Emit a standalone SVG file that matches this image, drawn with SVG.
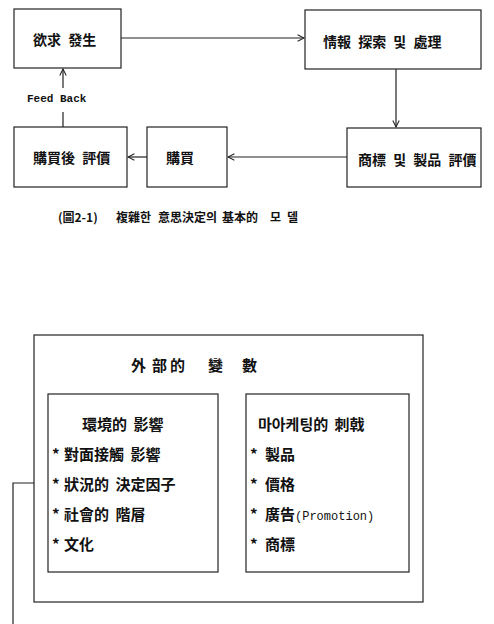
<svg xmlns="http://www.w3.org/2000/svg" width="494" height="624" viewBox="0 0 494 624">
<style>
.box{fill:#fff;stroke:#222;stroke-width:1.2}
.t{font-family:"Noto Sans CJK KR","Noto Sans CJK SC",sans-serif;fill:#111;font-weight:bold}
.top{font-size:14px;word-spacing:4px}
.low{font-size:15px;word-spacing:3px}
.cap{font-size:12px}
.mono{font-family:"Liberation Mono",monospace;fill:#111}
.line{fill:none;stroke:#222;stroke-width:1.2}
</style>
<defs>
<marker id="arr" viewBox="0 0 10 10" refX="9" refY="5" markerWidth="8" markerHeight="8" markerUnits="userSpaceOnUse" orient="auto">
<path d="M1,1 L9,5 L1,9" fill="none" stroke="#222" stroke-width="1.3"/>
</marker>
</defs>
<rect width="494" height="624" fill="#fff"/>

<g id="connectors">
<line class="line" x1="121" y1="38" x2="304" y2="38" marker-end="url(#arr)"/>
<line class="line" x1="396" y1="69" x2="396" y2="127" marker-end="url(#arr)"/>
<line class="line" x1="347" y1="157" x2="228" y2="157" marker-end="url(#arr)"/>
<line class="line" x1="147" y1="157" x2="128" y2="157" marker-end="url(#arr)"/>
<line class="line" x1="63" y1="127" x2="63" y2="112"/>
<line class="line" x1="63" y1="88" x2="63" y2="69" marker-end="url(#arr)"/>
<polyline class="line" points="34,483 13,483 13,624"/>
</g>

<g id="feedback-label">
<text class="mono" x="27" y="102" font-size="11" font-weight="bold">Feed Back</text>
</g>

<g id="n1">
<rect class="box" x="14" y="9" width="107" height="59"/>
<text class="t top" x="33" y="45">欲求 發生</text>
</g>
<g id="n2">
<rect class="box" x="305" y="10" width="176" height="59"/>
<text class="t top" x="323" y="47">情報 探索 및 處理</text>
</g>
<g id="n3">
<rect class="box" x="347" y="128" width="134" height="59"/>
<text class="t top" x="358" y="165">商標 및 製品 評價</text>
</g>
<g id="n4">
<rect class="box" x="147" y="127" width="80" height="60"/>
<text class="t top" x="166" y="163">購買</text>
</g>
<g id="n5">
<rect class="box" x="14" y="127" width="113" height="60"/>
<text class="t top" x="33" y="163">購買後 評價</text>
</g>

<g id="caption">
<text class="t cap" y="222"><tspan x="58">(圖2-1)</tspan><tspan x="116">複雜한</tspan><tspan x="158">意思決定의</tspan><tspan x="222">基本的</tspan><tspan x="270" letter-spacing="6">모델</tspan></text>
</g>

<g id="outer">
<rect class="box" x="34" y="335" width="389" height="267"/>
<text class="t" font-size="15" y="371" x="131 152 170 208 242">外部的變數</text>
</g>

<g id="env">
<rect class="box" x="48" y="394" width="170" height="178"/>
<text class="t low" x="82" y="430">環境的 影響</text>
<text class="t low" x="52" y="460">*</text><text class="t low" x="64" y="460">對面接觸 影響</text>
<text class="t low" x="52" y="490">*</text><text class="t low" x="64" y="490">狀況的 決定因子</text>
<text class="t low" x="52" y="520">*</text><text class="t low" x="64" y="520">社會的 階層</text>
<text class="t low" x="52" y="550">*</text><text class="t low" x="64" y="550">文化</text>
</g>

<g id="mkt">
<rect class="box" x="246" y="394" width="163" height="178"/>
<text class="t low" x="258" y="430">마아케팅的 刺戟</text>
<text class="t low" x="250" y="460">*</text><text class="t low" x="265" y="460">製品</text>
<text class="t low" x="250" y="490">*</text><text class="t low" x="265" y="490">價格</text>
<text class="t low" x="250" y="520">*</text><text class="t low" x="265" y="520">廣告<tspan class="mono" font-size="12" font-weight="normal">(Promotion)</tspan></text>
<text class="t low" x="250" y="550">*</text><text class="t low" x="265" y="550">商標</text>
</g>
</svg>
